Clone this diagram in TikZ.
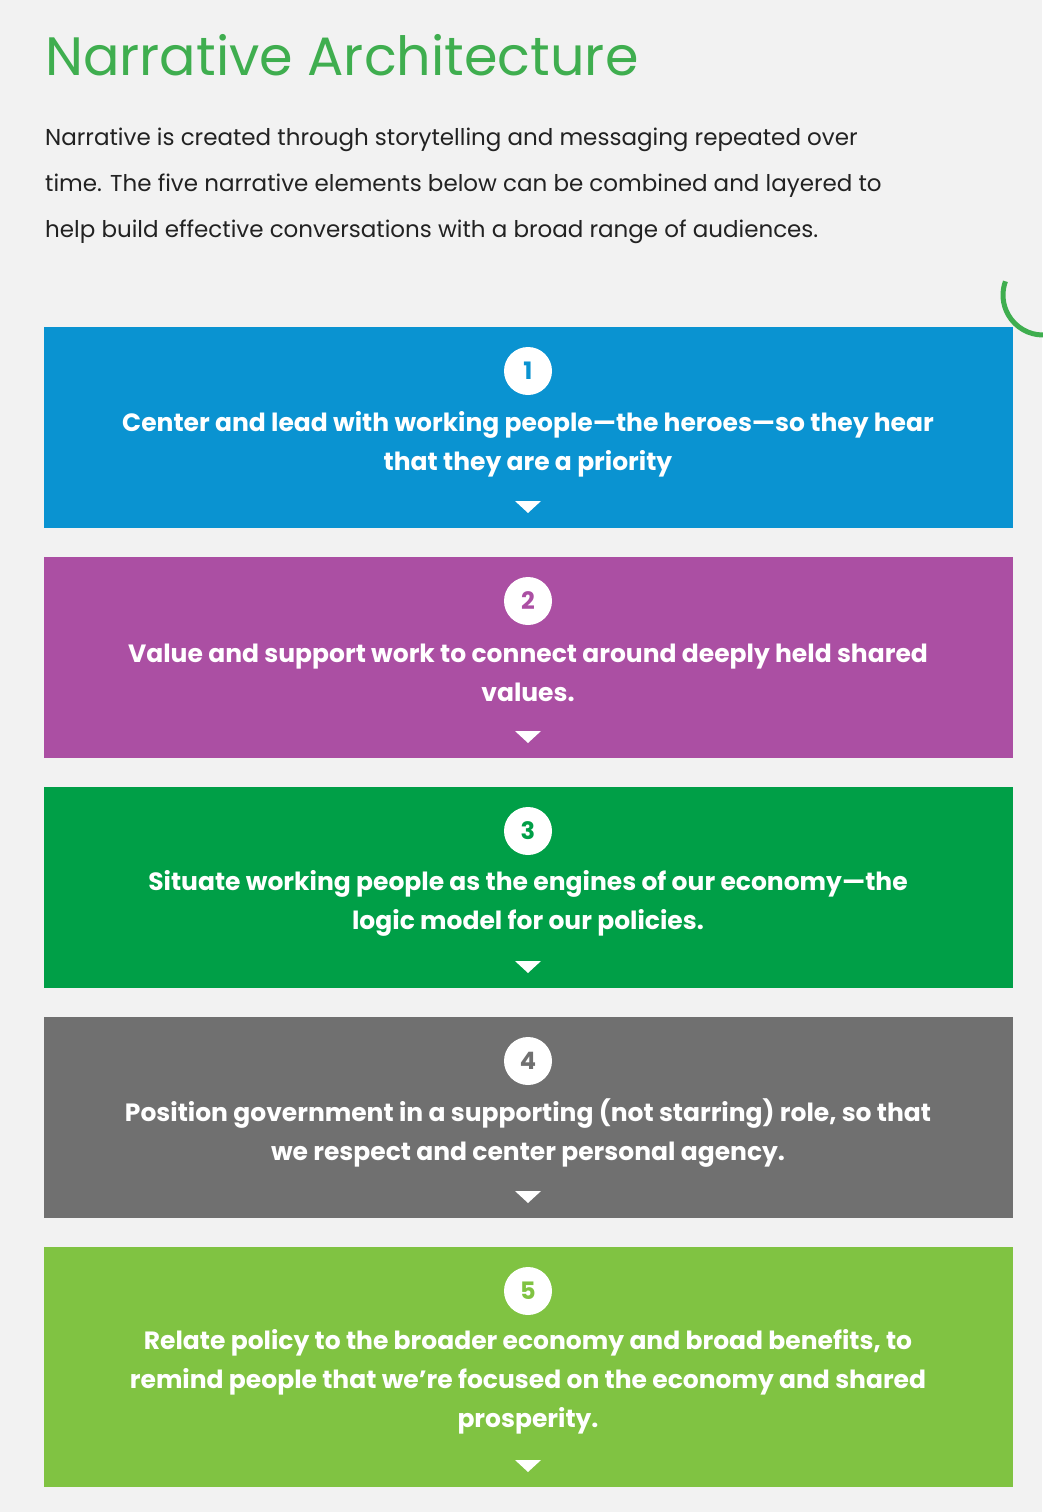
\documentclass[tikz,border=0pt]{standalone}
\usepackage{fontspec}
\setmainfont{Poppins}
\definecolor{bg}{HTML}{F2F2F2}
\definecolor{ttl}{HTML}{3FAE4F}
\definecolor{cA}{HTML}{0A93D1}
\definecolor{cB}{HTML}{AB4FA3}
\definecolor{cC}{HTML}{009F47}
\definecolor{cD}{HTML}{707070}
\definecolor{cE}{HTML}{80C342}
\definecolor{txt}{HTML}{222222}
\begin{document}
\begin{tikzpicture}[x=1pt,y=-1pt,
  card/.style={fill=#1,draw=none},
  num/.style={circle,fill=white,minimum size=48pt,inner sep=0pt,text=#1,font=\fontsize{24}{24}\selectfont\bfseries},
  msg/.style={text=white,align=center,font=\fontsize{25}{39}\selectfont\bfseries},
  tri/.style={fill=white,draw=none}]
\fill[bg] (0,0) rectangle (1042,1512);
\useasboundingbox (0,0) rectangle (1042,1512);
\draw[ttl,line width=5pt] (1043,335) arc[start angle=90,end angle=200,radius=40] coordinate (arcend);
\node[anchor=base west,inner sep=0pt,text=ttl,font=\fontsize{54}{54}\selectfont] (title) at (45,75) {Narrative Architecture};
\node[anchor=north west,inner sep=0pt,align=left,text=txt,font=\fontsize{23}{46}\selectfont] (intro) at (45,128)
 {Narrative is created through storytelling and messaging repeated over\\time. The five narrative elements below can be combined and layered to\\help build effective conversations with a broad range of audiences.};
\foreach \i/\top/\bot/\col/\txt/\ty in {
 1/327/528/cA/{Center and lead with working people---the heroes---so they hear\\that they are a priority}/444,
 2/557/758/cB/{Value and support work to connect around deeply held shared\\values.}/673,
 3/787/988/cC/{Situate working people as the engines of our economy---the\\logic model for our policies.}/903,
 4/1017/1218/cD/{Position government in a supporting (not starring) role, so that\\we respect and center personal agency.}/1133,
 5/1247/1487/cE/{Relate policy to the broader economy and broad benefits, to\\remind people that we're focused on the economy and shared\\prosperity.}/1382}{
 \fill[\col] (44,\top) rectangle (1013,\bot);
 \node[num=\col] (n\i) at (528,\top+44) {\i};
 \node[msg] (m\i) at (528,\ty) {\txt};
 \fill[white] (515,\bot-27) -- (541,\bot-27) -- (528,\bot-15) -- cycle;
}
\end{tikzpicture}
\end{document}
